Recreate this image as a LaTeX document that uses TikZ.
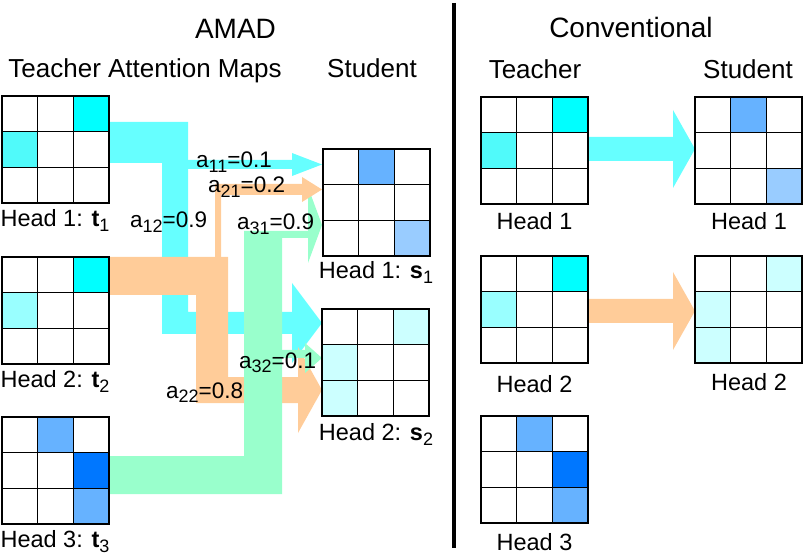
\documentclass[tikz,border=0pt]{standalone}
\usepackage{fontspec}
\setmainfont{Liberation Sans}
\definecolor{flowcyan}{RGB}{102,255,255}
\definecolor{floworange}{RGB}{255,204,153}
\definecolor{flowgreen}{RGB}{153,255,204}
\definecolor{cellcyan}{RGB}{0,255,255}
\definecolor{cellcyanmid}{RGB}{80,250,250}
\definecolor{cellcyanlight}{RGB}{153,255,255}
\definecolor{cellcyanpale}{RGB}{204,255,255}
\definecolor{cellblue}{RGB}{0,119,255}
\definecolor{cellbluemid}{RGB}{102,178,255}
\definecolor{cellbluelight}{RGB}{153,204,255}
\newcommand{\sbs}[1]{\raisebox{-5pt}{\fontsize{18}{18}\selectfont #1}}
\def\attmap(#1)(#2,#3)#4{%
	\node[mapbox] (#1) at (#2+53.5,#3+53.5) {};
	\foreach \c [count=\i from 0] in {#4} {
		\pgfmathtruncatemacro{\mrow}{\i/3}
		\pgfmathtruncatemacro{\mcol}{\i-3*\mrow}
		\fill[\c] (#2+\mcol*35.67,#3+\mrow*35.67) rectangle ++(35.67,35.67);
	}
	\draw[mapline] (#2,#3) rectangle ++(107,107);
	\foreach \k in {1,2} {
		\draw[mapline] (#2+\k*35.67,#3) -- ++(0,107);
		\draw[mapline] (#2,#3+\k*35.67) -- ++(107,0);
	}
}

\begin{document}
\begin{tikzpicture}[x=1pt, y=-1pt,
	mapbox/.style={minimum size=107pt, inner sep=0pt, outer sep=0pt},
	mapline/.style={line width=1.4pt, line cap=rect},
	lbl/.style={font=\fontsize{23.5}{28}\selectfont, inner sep=0pt, anchor=base},
	hdr/.style={font=\fontsize{26}{31}\selectfont, inner sep=0pt, anchor=base},
	ttl/.style={font=\fontsize{28}{34}\selectfont, inner sep=0pt, anchor=base},
	wgt/.style={font=\fontsize{22.5}{27}\selectfont, inner sep=0pt, anchor=base west}]
		%%%%% START %%%%%
		\useasboundingbox (0,0) rectangle (804,556);
		
		% AMAD flows
		\fill[flowcyan] (108,122) -- (188,122) -- (188,312) -- (292,312) -- (292,283) -- (322,323) -- (292,363) -- (292,334) -- (162,334) -- (162,163) -- (108,163) -- cycle;
		\fill[flowcyan] (188,160) -- (292,160) -- (292,153) -- (322,164.5) -- (292,176) -- (292,169) -- (188,169) -- cycle;
		
		\fill[floworange] (108,257) -- (228,257) -- (228,377) -- (298,377) -- (298,347) -- (322,390) -- (298,433) -- (298,403) -- (196,403) -- (196,295) -- (108,295) -- cycle;
		
		\fill[flowgreen] (108,456) -- (244,456) -- (244,231) -- (308,231) -- (308,187) -- (322,225) -- (308,263) -- (308,238) -- (282,238) -- (282,494) -- (108,494) -- cycle;
		\fill[flowgreen] (282,350) -- (305,350) -- (305,343) -- (322,358) -- (305,373) -- (305,358) -- (282,358) -- cycle;
		
		\fill[floworange] (215,257) -- (215,184) -- (302,184) -- (302,177) -- (322,189.5) -- (302,202) -- (302,195) -- (221,195) -- (221,257) -- cycle;
		
		% conventional flows
		\fill[flowcyan] (588,137) -- (673,137) -- (673,110) -- (695,149) -- (673,188) -- (673,161) -- (588,161) -- cycle;
		\fill[floworange] (588,299) -- (673,299) -- (673,272) -- (695,311) -- (673,350) -- (673,323) -- (588,323) -- cycle;
		
		% attention maps
		\attmap(t1)(2,96){white,white,cellcyan,cellcyanmid,white,white,white,white,white}
		\attmap(t2)(2,257){white,white,cellcyan,cellcyanlight,white,white,white,white,white}
		\attmap(t3)(2,417){white,cellbluemid,white,white,white,cellblue,white,white,cellbluemid}
		\attmap(s1)(323,149){white,cellbluemid,white,white,white,white,white,white,cellbluelight}
		\attmap(s2)(322,309){white,white,cellcyanpale,cellcyanpale,white,white,cellcyanpale,white,white}
		
		\attmap(ct1)(481,97){white,white,cellcyan,cellcyanmid,white,white,white,white,white}
		\attmap(ct2)(481,256){white,white,cellcyan,cellcyanlight,white,white,white,white,white}
		\attmap(ct3)(481,416){white,cellbluemid,white,white,white,cellblue,white,white,cellbluemid}
		\attmap(cs1)(695,97){white,cellbluemid,white,white,white,white,white,white,cellbluelight}
		\attmap(cs2)(695,256){white,white,cellcyanpale,cellcyanpale,white,white,cellcyanpale,white,white}
		
		% titles
		\node[ttl] (amad) at (235.5,39) {AMAD};
		\node[hdr] (tmaps) at (145,78) {Teacher Attention Maps};
		\node[hdr] (smaps) at (372,78) {Student};
		\node[ttl] (conv) at (631,38) {Conventional};
		\node[hdr] (cteach) at (535,79) {Teacher};
		\node[hdr] (cstud) at (748,79) {Student};
		
		\draw[line width=3.5pt] (454,3) -- (454,548);
		
		% head labels
		\node[lbl] (lt1) at (55,227) {Head 1: \textbf{t}\sbs{1}};
		\node[lbl] (lt2) at (55,388) {Head 2: \textbf{t}\sbs{2}};
		\node[lbl] (lt3) at (55,547) {Head 3: \textbf{t}\sbs{3}};
		\node[lbl] (ls1) at (376,279) {Head 1: \textbf{s}\sbs{1}};
		\node[lbl] (ls2) at (376,440) {Head 2: \textbf{s}\sbs{2}};
		
		\node[lbl] (lct1) at (534.5,230) {Head 1};
		\node[lbl] (lct2) at (534.5,392) {Head 2};
		\node[lbl] (lct3) at (534.5,550) {Head 3};
		\node[lbl] (lcs1) at (749,230) {Head 1};
		\node[lbl] (lcs2) at (749,390) {Head 2};
		
		% weights
		\node[wgt] (w11) at (196,168) {a\sbs{11}=0.1};
		\node[wgt] (w21) at (208,193) {a\sbs{21}=0.2};
		\node[wgt] (w12) at (130,228) {a\sbs{12}=0.9};
		\node[wgt] (w31) at (237,230) {a\sbs{31}=0.9};
		\node[wgt] (w22) at (166,398) {a\sbs{22}=0.8};
		\node[wgt] (w32) at (239,368) {a\sbs{32}=0.1};
		
		%%%%% END %%%%%
\end{tikzpicture}
\end{document}
